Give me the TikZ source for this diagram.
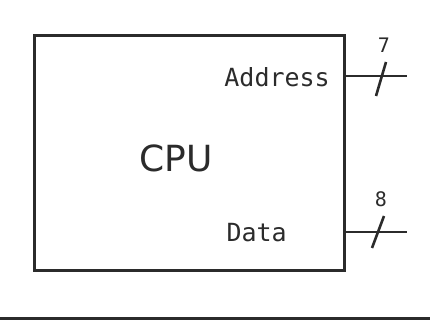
\documentclass[tikz,border=0pt]{standalone}
\usepackage{fontspec}
\setmainfont{DejaVu Sans}
\setmonofont{DejaVu Sans Mono}
\usetikzlibrary{positioning,calc}
\definecolor{cdark}{HTML}{2B2B2B}
\tikzset{
  pinlbl/.style={font=\ttfamily\fontsize{25}{27}\selectfont,text=cdark,inner sep=0pt},
  bus/.style={line width=2.6pt,draw=cdark},
}

\begin{document}
\begin{tikzpicture}[x=1pt,y=-1pt]
  \useasboundingbox (0,0) rectangle (430,320);
  \node[draw=cdark,line width=3pt,minimum width=310pt,minimum height=234pt,
        inner sep=0pt] (cpu) at (189,153) {};
  \node[font=\fontsize{36}{40}\selectfont,text=cdark,inner sep=0pt] (cpulbl) at (176,158) {CPU};
  \node[pinlbl,anchor=east] (addr) at (330,77) {Address};
  \node[pinlbl,anchor=east] (data) at (287,233) {Data};
  % bus lines
  \coordinate (addrend) at (407,76);
  \coordinate (dataend) at (407,232);
  \draw[bus] (cpu.east |- addrend) -- (addrend);
  \draw[bus] (cpu.east |- dataend) -- (dataend);
  % width marks
  \coordinate (s1) at (381,79);
  \coordinate (s2) at (378,232);
  \draw[bus] ($(s1)+(-5,17)$) -- ($(s1)+(5,-17)$);
  \draw[bus] ($(s2)+(-6,16)$) -- ($(s2)+(6,-16)$);
  \node[pinlbl,font=\ttfamily\fontsize{20}{22}\selectfont] (w1) at (384,45) {7};
  \node[pinlbl,font=\ttfamily\fontsize{20}{22}\selectfont] (w2) at (381,199) {8};
  \draw[line width=3pt,draw=cdark] (0,318) -- (430,318);
\end{tikzpicture}
\end{document}
